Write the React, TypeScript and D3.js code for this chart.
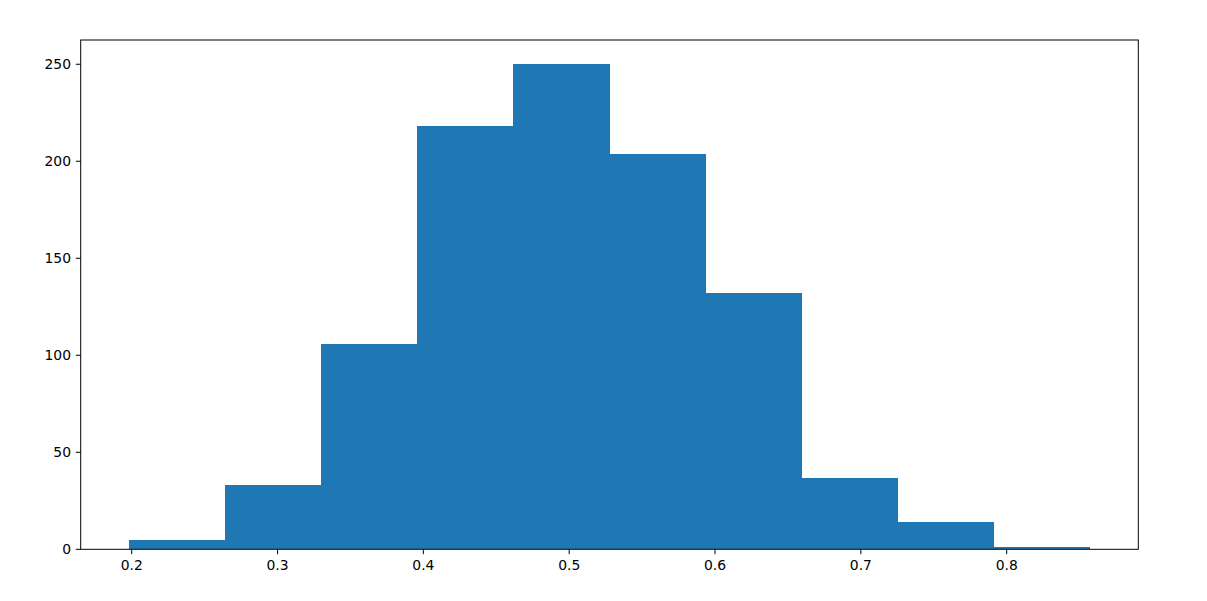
import React from "react";
import * as d3 from "d3";

const binEdges = [0.198, 0.26393, 0.32986, 0.39578, 0.46171, 0.52764, 0.59357, 0.6595, 0.72542, 0.79135, 0.85728];
const counts = [5, 33, 106, 218, 250, 204, 132, 37, 14, 1];
const xTicks = [0.2, 0.3, 0.4, 0.5, 0.6, 0.7, 0.8];
const yTicks = [0, 50, 100, 150, 200, 250];

const W = 1207;
const H = 601;
const left = 80.7;
const right = 1138.3;
const top = 40;
const bottom = 549.3;
const font = "'DejaVu Sans', sans-serif";
const fs = 13.9;
const tickLen = 4.86;

export default function App() {
  const xmin = binEdges[0];
  const xmax = binEdges[binEdges.length - 1];
  const xpad = (xmax - xmin) * 0.05;
  const x = d3.scaleLinear().domain([xmin - xpad, xmax + xpad]).range([left, right]);
  const ymax = d3.max(counts) as number;
  const y = d3.scaleLinear().domain([0, ymax * 1.05]).range([bottom, top]);

  return (
    <svg width={W} height={H} style={{ position: "absolute", left: 0, top: 0, background: "#fff" }}>
      <rect x={0} y={0} width={W} height={H} fill="#fff" />
      {counts.map((c, i) => (
        <rect
          key={i}
          x={x(binEdges[i])}
          y={y(c)}
          width={x(binEdges[i + 1]) - x(binEdges[i])}
          height={y(0) - y(c)}
          fill="#1f77b4"
          shapeRendering="crispEdges"
        />
      ))}
      <rect x={left} y={top} width={right - left} height={bottom - top} fill="none" stroke="#000" strokeWidth={1} />
      {xTicks.map((t) => (
        <g key={t} transform={`translate(${x(t)},${bottom})`}>
          <line y1={0} y2={tickLen} stroke="#000" strokeWidth={1} />
          <text y={tickLen + 4.86} dy="0.76em" textAnchor="middle" fontFamily={font} fontSize={fs} fill="#000">
            {d3.format(".1f")(t)}
          </text>
        </g>
      ))}
      {yTicks.map((t) => (
        <g key={t} transform={`translate(${left},${y(t)})`}>
          <line x1={0} x2={-tickLen} stroke="#000" strokeWidth={1} />
          <text x={-tickLen - 4.86} dy="0.36em" textAnchor="end" fontFamily={font} fontSize={fs} fill="#000">
            {t}
          </text>
        </g>
      ))}
    </svg>
  );
}
